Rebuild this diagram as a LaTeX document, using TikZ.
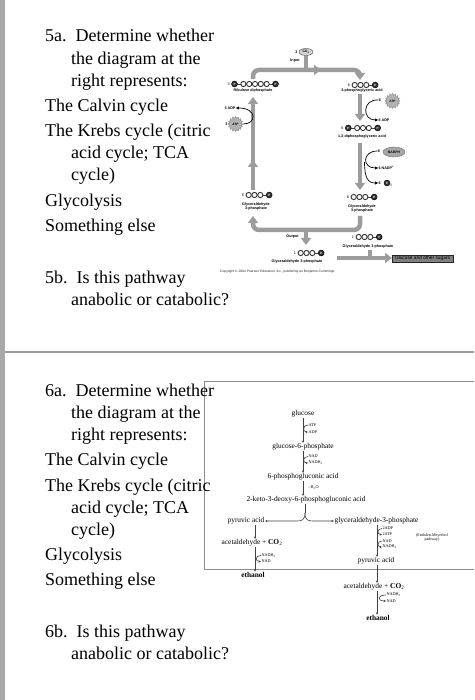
\documentclass[tikz,border=0pt]{standalone}
\usepackage{fontspec}
\setmainfont{Liberation Serif}
\newfontfamily\lsans{Liberation Sans}
\usetikzlibrary{arrows.meta,shapes.geometric,calc}
\definecolor{pathgray}{HTML}{9C9C9C}
\definecolor{bargray}{HTML}{A8A8A8}
\definecolor{divgray}{HTML}{9C9C9C}
\newcommand{\fs}[1]{\fontsize{#1}{#1}\selectfont}
\tikzset{
 q/.style={anchor=base west, inner sep=0, font=\fs{18}},
 lab/.style={font=\lsans\bfseries\fs{3.7}, inner sep=0.3pt, text=black},
 thk/.style={draw=pathgray, line width=4.5pt},
 thkarr/.style={thk, -{Triangle[width=10pt,length=7pt]}},
 wc/.style={circle, draw=black!80, fill=white, line width=0.9pt, minimum size=5.2pt, inner sep=0},
 pc/.style={circle, draw=black, fill=black!80, minimum size=6pt, inner sep=0, text=white, font=\lsans\bfseries\fs{3}},
 chem/.style={font=\fs{7.4}, inner sep=0.5pt, text=black},
 chemb/.style={font=\bfseries\fs{7.4}, inner sep=0.5pt, text=black},
 sm/.style={font=\fs{4.2}, inner sep=0.3pt, anchor=west, text=black},
 thin/.style={draw=black!75, line width=0.6pt},
 thinarr/.style={thin, -{Stealth[length=2.5pt,width=2.2pt]}},
 curvearr/.style={draw=black, line width=0.7pt, -{Triangle[length=3pt,width=3pt]}},
 boxline/.style={draw=black!45, line width=0.9pt},
 atpstar/.style={star, star points=16, star point ratio=1.3, fill=black!30, draw=black!45, minimum size=15pt, inner sep=0, font=\lsans\bfseries\fs{3.2}},
}
% molecule: center x, y, count, number of white circles, left phosphate (1/0)
\newcommand{\mol}[5]{%
 \pgfmathsetmacro{\mw}{#5*9+#4*5.8+9}%
 \pgfmathsetmacro{\mx}{#1-\mw/2}%
 \pgfmathsetmacro{\ws}{\mx+#5*9}%
 \pgfmathsetmacro{\we}{\ws+#4*5.8}%
 \node[lab, anchor=east, font=\lsans\fs{3.8}] at ({\mx-1.2},#2) {#3};
 \ifnum#5=1
  \draw[line width=0.8pt, black!75] ({\mx+3},#2) -- ({\ws+0.5},#2);
  \node[pc] at ({\mx+3},#2) {P};
 \fi
 \foreach \i in {1,...,#4} {\node[wc] at ({\ws+(\i-0.5)*5.8},#2) {};}
 \draw[line width=0.8pt, black!75] ({\we-0.5},#2) -- ({\we+4},#2);
 \node[pc] at ({\we+6},#2) {P};
}
\begin{document}
\begin{tikzpicture}[x=1pt,y=-1pt]
\useasboundingbox (0,0) rectangle (474,700);
\fill[white] (0,0) rectangle (474,700);
\fill[bargray] (0,0) rectangle (5,700);
\fill[divgray] (5,350.8) rectangle (474,353.2);
\draw[boxline] (474,381) -- (204,381) -- (204,569) -- (474,569);

% ---------- question text, upper ----------
\node[q] (t1) at (45,42) {5a.~~Determine whether};
\node[q] (t2) at (71,65) {the diagram at the};
\node[q] (t3) at (71,86.5) {right represents:};
\node[q] (t4) at (45,111.5) {The Calvin cycle};
\node[q] (t5) at (45,136.5) {The Krebs cycle (citric};
\node[q] (t6) at (71,159) {acid cycle; TCA};
\node[q] (t7) at (71,180.5) {cycle)};
\node[q] (t8) at (45,206.5) {Glycolysis};
\node[q] (t9) at (45,231.5) {Something else};
\node[q] (t10) at (45,283.5) {5b.~~Is this pathway};
\node[q] (t11) at (71,305.5) {anabolic or catabolic?};

% ---------- question text, lower ----------
\node[q] (u1) at (45,396) {6a.~~Determine whether};
\node[q] (u2) at (71,418) {the diagram at the};
\node[q] (u3) at (71,440.5) {right represents:};
\node[q] (u4) at (45,465) {The Calvin cycle};
\node[q] (u5) at (45,491) {The Krebs cycle (citric};
\node[q] (u6) at (71,513) {acid cycle; TCA};
\node[q] (u7) at (71,535.5) {cycle)};
\node[q] (u8) at (45,560.5) {Glycolysis};
\node[q] (u9) at (45,585.5) {Something else};
\node[q] (u10) at (45,637) {6b.~~Is this pathway};
\node[q] (u11) at (71,659) {anabolic or catabolic?};

% ---------- Calvin cycle ----------
\node[ellipse, draw=black!70, fill=black!18, minimum width=14pt, minimum height=7pt, inner sep=0, font=\lsans\bfseries\fs{3.4}] (co2) at (306,52) {CO\textsubscript{2}};
\node[lab, anchor=east] (three) at (298,52) {3};
\node[lab, anchor=east] (inp) at (300,61) {Input};

\draw[thk] (co2.south) -- (306,70);
\draw[thkarr, rounded corners=6pt] (253,79) -- (253,70) -- (360,70) -- (360,80);
\draw[thkarr] (300,70) -- (321,70);
\draw[thkarr] (360,94) -- (360,121);
\draw[thkarr] (360,143) -- (360,190);
\draw[thkarr, rounded corners=6pt] (360,216) -- (360,230) -- (253,230) -- (253,216);
\draw[thkarr] (306,230) -- (306,245);
\draw[thkarr] (253,190) -- (253,97);
\draw[thkarr] (253,176) -- (253,160);
\draw[thk] (370,250) -- (370,258);
\draw[thkarr] (337,258) -- (392,258);

\mol{255}{84}{3}{5}{1}
\node[lab] (rdp) at (253,91) {Ribulose diphosphate};
\mol{365}{85}{6}{3}{0}
\node[lab] (pga3) at (362,91) {3-phosphoglyceric acid};
\mol{363}{128}{6}{3}{1}
\node[lab] (dpga) at (362,137) {1,3-diphosphoglyceric acid};
\mol{259}{195}{5}{3}{0}
\node[lab, align=center] (g3pa) at (256,206.5) {Glyceraldehyde\\[-0.6pt]3-phosphate};
\mol{364}{197}{6}{3}{0}
\node[lab, align=center] (g3pb) at (362,208.5) {Glyceraldehyde\\[-0.6pt]3-phosphate};
\node[lab, anchor=east] (outp) at (299,237) {Output};
\mol{311}{253}{1}{3}{0}
\node[lab] (g3pc) at (297,262) {Glyceraldehyde 3-phosphate};
\mol{369}{237}{1}{3}{0}
\node[lab] (g3pd) at (368,247) {Glyceraldehyde 3-phosphate};
\node[draw=black!85, fill=black!50, font=\lsans\fs{4.8}, minimum width=61pt, minimum height=7.5pt, inner sep=0] (sugars) at (422.5,258.5) {Glucose and other sugars};

% ATP / ADP left
\node[lab] (adp3) at (230,108) {3 ADP};
\node[atpstar] (atp3) at (235.5,124) {ATP};
\node[lab, anchor=east] (n3) at (228,124) {3};
\draw[curvearr] (atp3.east) .. controls (257,124) and (257,108) .. (adp3.east);

% ATP / ADP right
\node[lab] (n6a) at (380,100) {6};
\node[atpstar] (atp6) at (392.5,101) {ATP};
\node[lab, anchor=west] (adp6) at (378,120) {6 ADP};
\draw[curvearr] (n6a.west) .. controls (362,99) and (362,120) .. (adp6.west);

% NADPH
\node[lab] (n6b) at (379,151) {6};
\node[ellipse, draw=black!55, fill=black!35, minimum width=22pt, minimum height=10pt, inner sep=0, font=\lsans\bfseries\fs{3.4}] (nadph) at (394,152) {NADPH};
\node[lab, anchor=west] (nadp) at (378,168) {6 NADP\textsuperscript{+}};
\draw[curvearr] (n6b.west) .. controls (362,151) and (362,168) .. (nadp.west);
\node[lab, anchor=west] (pi) at (378,183) {6};
\node[pc] (pic) at (387,183) {P};
\node[lab, anchor=west] (pisub) at (390,185) {i};
\coordinate (br) at (364.5,162);
\draw[curvearr] (br) .. controls (364.5,178) and (368,183) .. (pi.west);

\node[font=\lsans\fs{3.3}, anchor=west, inner sep=0, text=black!85] (copy) at (220,272) {Copyright \textcopyright{} 2004 Pearson Education, Inc., publishing as Benjamin Cummings.};

% ---------- Entner-Doudoroff diagram ----------
\coordinate (mx) at (303,0);
\coordinate (lx) at (255,0);
\coordinate (rx) at (377,0);
\node[chem] (glu) at (303,414) {glucose};
\node[chem] (g6p) at (303,447) {glucose-6-phosphate};
\node[chem] (pgl) at (303,477) {6-phosphogluconic acid};
\node[chem] (kdpg) at (306,500) {2-keto-3-deoxy-6-phosphogluconic acid};
\node[chem] (pyrL) at (246,521) {pyruvic acid};
\node[chem] (g3p) at (376.5,521) {glyceraldehyde-3-phosphate};
\node[chem] (acL) at (252,543) {acetaldehyde + \textbf{CO}\textsubscript{2}};
\node[chemb] (etL) at (253,575) {ethanol};
\node[chem] (pyrR) at (376,561) {pyruvic acid};
\node[chem] (acR) at (374,587) {acetaldehyde + \textbf{CO}\textsubscript{2}};
\node[chemb] (etR) at (378,618) {ethanol};

\draw[thinarr] (glu.south -| mx) -- (g6p.north -| mx);
\draw[thinarr] (g6p.south -| mx) -- (pgl.north -| mx);
\draw[thinarr] (pgl.south -| mx) -- (kdpg.north -| mx);

\node[sm] (atp) at (308,425) {ATP};
\node[sm] (adp) at (308,432) {ADP};
\draw[thinarr] (atp.west) .. controls (302.5,425) and (302.5,432) .. (adp.west);
\node[sm] (nad1) at (308,456.5) {NAD};
\node[sm] (nadh1) at (308,463) {NADH\textsubscript{2}};
\draw[thinarr] (nad1.west) .. controls (302.5,456.5) and (302.5,463) .. (nadh1.west);
\node[sm] (h2o) at (308,487.5) {\textendash H\textsubscript{2}O};

\coordinate (fk) at (305,513);
\draw[thin] (kdpg.south -| fk) -- (fk);
\draw[thinarr] (fk) .. controls (305,520) and (302,521) .. (297,521) -- (pyrL.east);
\draw[thinarr] (fk) .. controls (305,520) and (308,521) .. (313,521) -- (g3p.west);

\draw[thinarr] (pyrL.south -| lx) -- (acL.north -| lx);
\draw[thinarr] (acL.south -| lx) -- (etL.north -| lx);
\node[sm] (nadh2) at (261,555.5) {NADH\textsubscript{2}};
\node[sm] (nad2) at (261,561.5) {NAD};
\draw[thinarr] (nadh2.west) .. controls (255,555.5) and (255,561.5) .. (nad2.west);

\draw[thinarr] (g3p.south -| rx) -- (pyrR.north -| rx);
\node[sm] (adp2) at (382,528.5) {2ADP};
\node[sm] (atp2) at (382,534.5) {2ATP};
\draw[thinarr] (adp2.west) .. controls (377,528.5) and (377,534.5) .. (atp2.west);
\node[sm] (nad3) at (382,541) {NAD};
\node[sm] (nadh3) at (382,547) {NADH\textsubscript{2}};
\draw[thinarr] (nad3.west) .. controls (377,541) and (377,547) .. (nadh3.west);
\node[sm, anchor=center, align=center, font=\fs{4}] (emp) at (432,537.5) {(Embden-Meyerhof\\[-0.5pt]pathway)};

\draw[thinarr] (pyrR.south -| rx) -- (acR.north -| rx);
\draw[thinarr] (acR.south -| rx) -- (etR.north -| rx);
\node[sm] (nadh4) at (386,595) {NADH\textsubscript{2}};
\node[sm] (nad4) at (386,601) {NAD};
\draw[thinarr] (nadh4.west) .. controls (377,595) and (377,601) .. (nad4.west);
\end{tikzpicture}
\end{document}
